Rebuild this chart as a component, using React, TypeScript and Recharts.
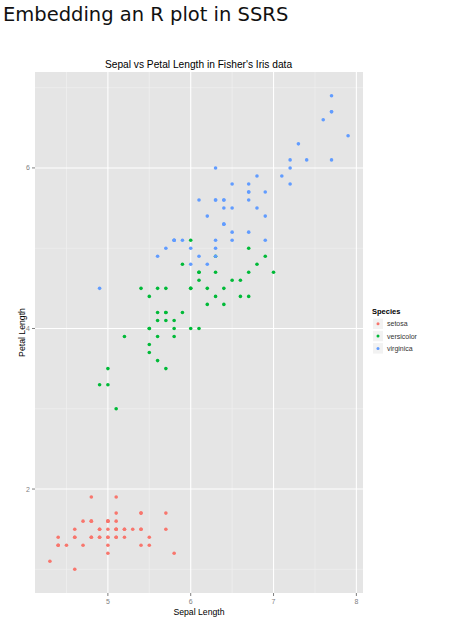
import {
  ScatterChart,
  Scatter,
  XAxis,
  YAxis,
  CartesianGrid,
  ReferenceLine,
  Legend,
} from 'recharts';

// Fisher's iris: sepal length (x) and petal length (y) per species
const setosaSepal = [
  5.1, 4.9, 4.7, 4.6, 5.0, 5.4, 4.6, 5.0, 4.4, 4.9, 5.4, 4.8, 4.8, 4.3, 5.8, 5.7, 5.4,
  5.1, 5.7, 5.1, 5.4, 5.1, 4.6, 5.1, 4.8, 5.0, 5.0, 5.2, 5.2, 4.7, 4.8, 5.4, 5.2, 5.5,
  4.9, 5.0, 5.5, 4.9, 4.4, 5.1, 5.0, 4.5, 4.4, 5.0, 5.1, 4.8, 5.1, 4.6, 5.3, 5.0,
];
const setosaPetal = [
  1.4, 1.4, 1.3, 1.5, 1.4, 1.7, 1.4, 1.5, 1.4, 1.5, 1.5, 1.6, 1.4, 1.1, 1.2, 1.5, 1.3,
  1.4, 1.7, 1.5, 1.7, 1.5, 1.0, 1.7, 1.9, 1.6, 1.6, 1.5, 1.4, 1.6, 1.6, 1.5, 1.5, 1.4,
  1.5, 1.2, 1.3, 1.4, 1.3, 1.5, 1.3, 1.3, 1.3, 1.6, 1.9, 1.4, 1.6, 1.4, 1.5, 1.4,
];
const versicolorSepal = [
  7.0, 6.4, 6.9, 5.5, 6.5, 5.7, 6.3, 4.9, 6.6, 5.2, 5.0, 5.9, 6.0, 6.1, 5.6, 6.7, 5.6,
  5.8, 6.2, 5.6, 5.9, 6.1, 6.3, 6.1, 6.4, 6.6, 6.8, 6.7, 6.0, 5.7, 5.5, 5.5, 5.8, 6.0,
  5.4, 6.0, 6.7, 6.3, 5.6, 5.5, 5.5, 6.1, 5.8, 5.0, 5.6, 5.7, 5.7, 6.2, 5.1, 5.7,
];
const versicolorPetal = [
  4.7, 4.5, 4.9, 4.0, 4.6, 4.5, 4.7, 3.3, 4.6, 3.9, 3.5, 4.2, 4.0, 4.7, 3.6, 4.4, 4.5,
  4.1, 4.5, 3.9, 4.8, 4.0, 4.9, 4.7, 4.3, 4.4, 4.8, 5.0, 4.5, 3.5, 3.8, 3.7, 3.9, 5.1,
  4.5, 4.5, 4.7, 4.4, 4.1, 4.0, 4.4, 4.6, 4.0, 3.3, 4.2, 4.2, 4.2, 4.3, 3.0, 4.1,
];
const virginicaSepal = [
  6.3, 5.8, 7.1, 6.3, 6.5, 7.6, 4.9, 7.3, 6.7, 7.2, 6.5, 6.4, 6.8, 5.7, 5.8, 6.4, 6.5,
  7.7, 7.7, 6.0, 6.9, 5.6, 7.7, 6.3, 6.7, 7.2, 6.2, 6.1, 6.4, 7.2, 7.4, 7.9, 6.4, 6.3,
  6.1, 7.7, 6.3, 6.4, 6.0, 6.9, 6.7, 6.9, 5.8, 6.8, 6.7, 6.7, 6.3, 6.5, 6.2, 5.9,
];
const virginicaPetal = [
  6.0, 5.1, 5.9, 5.6, 5.8, 6.6, 4.5, 6.3, 5.8, 6.1, 5.1, 5.3, 5.5, 5.0, 5.1, 5.3, 5.5,
  6.7, 6.9, 5.0, 5.7, 4.9, 6.7, 4.9, 5.7, 6.0, 4.8, 4.9, 5.6, 5.8, 6.1, 6.4, 5.6, 5.1,
  5.6, 6.1, 5.6, 5.5, 4.8, 5.4, 5.6, 5.1, 5.1, 5.9, 5.7, 5.2, 5.0, 5.2, 5.4, 5.1,
];

const speciesNames = ['setosa', 'versicolor', 'virginica'];
const speciesColors = ['#F8766D', '#00BA38', '#619CFF'];

const xTicks = [5, 6, 7, 8];
const yTicks = [2, 4, 6];
const xMinor = [4.5, 5.5, 6.5, 7.5];
const yMinor = [1, 3, 5, 7];

const FONT = '"Liberation Sans", Arial, sans-serif';

const toPoints = (xs: number[], ys: number[]) => xs.map((x, i) => ({ x, y: ys[i] }));

const series = [
  toPoints(setosaSepal, setosaPetal),
  toPoints(versicolorSepal, versicolorPetal),
  toPoints(virginicaSepal, virginicaPetal),
];

// ggplot-style 5% padding around the data range
const expand = ([lo, hi]: readonly [number, number]): [number, number] => {
  const pad = (hi - lo) * 0.05;
  return [lo - pad, hi + pad];
};

const dot = (color: string) => (props: any) => (
  <circle cx={props.cx} cy={props.cy} r={1.8} fill={color} />
);

function SpeciesLegend() {
  return (
    <svg width={90} height={52} style={{ fontFamily: FONT, display: 'block' }}>
      <text x={0} y={9} fontSize={7.5} fontWeight="bold" fill="#000">
        Species
      </text>
      {speciesNames.map((name, i) => {
        const top = 13 + i * 12.3;
        return (
          <g key={name}>
            <rect x={0.5} y={top} width={11} height={11.5} fill="#F2F2F2" stroke="#fff" />
            <circle cx={6} cy={top + 5.8} r={1.5} fill={speciesColors[i]} />
            <text x={15} y={top + 8.3} fontSize={7} fill="#333">
              {name}
            </text>
          </g>
        );
      })}
    </svg>
  );
}

export default function App() {
  return (
    <div style={{ position: 'absolute', left: 0, top: 0, width: 474, height: 620, background: '#fff' }}>
      <ScatterChart
        width={474}
        height={620}
        margin={{ top: 72, right: 111, bottom: 0, left: 0 }}
        style={{ fontFamily: FONT }}
      >
        <CartesianGrid fill="#E5E5E5" horizontal={false} vertical={false} />
        {xMinor.map((v) => (
          <ReferenceLine key={`xm${v}`} x={v} stroke="#F2F2F2" strokeWidth={0.6} />
        ))}
        {yMinor.map((v) => (
          <ReferenceLine key={`ym${v}`} y={v} stroke="#F2F2F2" strokeWidth={0.6} />
        ))}
        {xTicks.map((v) => (
          <ReferenceLine key={`x${v}`} x={v} stroke="#fff" strokeWidth={1.1} />
        ))}
        {yTicks.map((v) => (
          <ReferenceLine key={`y${v}`} y={v} stroke="#fff" strokeWidth={1.1} />
        ))}
        <XAxis
          type="number"
          dataKey="x"
          domain={expand}
          ticks={xTicks}
          interval={0}
          height={27}
          axisLine={false}
          tickSize={3}
          tickMargin={3}
          tickLine={{ stroke: '#7F7F7F' }}
          tick={{ fill: '#7F7F7F', fontSize: 7 }}
          label={{ value: 'Sepal Length', position: 'insideBottom', offset: 5, fill: '#000', fontSize: 8.7 }}
        />
        <YAxis
          type="number"
          dataKey="y"
          domain={expand}
          ticks={yTicks}
          interval={0}
          width={35}
          axisLine={false}
          tickSize={3}
          tickMargin={2}
          tickLine={{ stroke: '#7F7F7F' }}
          tick={{ fill: '#7F7F7F', fontSize: 7 }}
          label={{
            value: 'Petal Length',
            angle: -90,
            position: 'insideLeft',
            offset: 21.7,
            fill: '#000',
            fontSize: 8.7,
            style: { textAnchor: 'middle' },
          }}
        />
        <Legend
          layout="vertical"
          align="center"
          verticalAlign="middle"
          wrapperStyle={{ left: 372, top: 305, width: 90 }}
          content={() => <SpeciesLegend />}
        />
        {series.map((data, i) => (
          <Scatter
            key={speciesNames[i]}
            name={speciesNames[i]}
            data={data}
            fill={speciesColors[i]}
            shape={dot(speciesColors[i])}
            isAnimationActive={false}
          />
        ))}
      </ScatterChart>
      <div
        style={{
          position: 'absolute',
          left: 3,
          top: 3,
          fontFamily: '"DejaVu Sans", sans-serif',
          fontSize: 19.5,
          lineHeight: '24px',
          color: '#111',
          whiteSpace: 'nowrap',
        }}
      >
        Embedding an R plot in SSRS
      </div>
      <div
        style={{
          position: 'absolute',
          left: 35,
          width: 327,
          top: 59,
          textAlign: 'center',
          fontFamily: FONT,
          fontSize: 10.2,
          lineHeight: '12px',
          color: '#000',
          whiteSpace: 'nowrap',
        }}
      >
        Sepal vs Petal Length in Fisher's Iris data
      </div>
    </div>
  );
}
